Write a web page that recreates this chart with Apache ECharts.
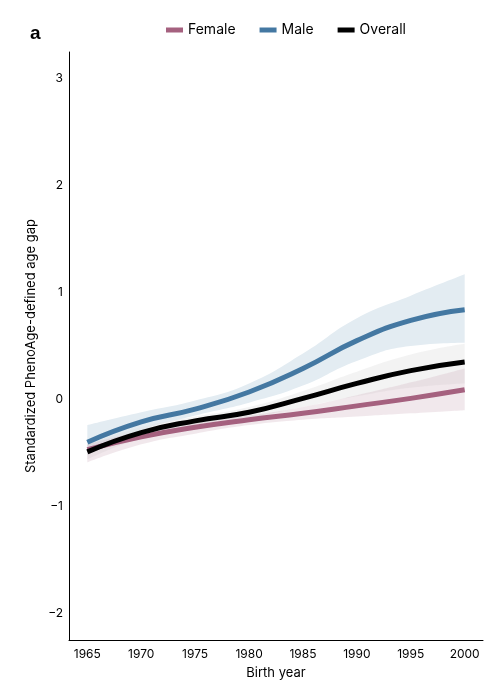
<!DOCTYPE html>
<html>
<head>
<meta charset="utf-8">
<script src="https://cdn.jsdelivr.net/npm/echarts@6/dist/echarts.min.js"></script>
<style>
  html, body { margin: 0; padding: 0; background: #fff; }
  #chart { width: 495px; height: 697px; }
</style>
</head>
<body>
<div id="chart"></div>
<script>
// birth years
const years = [1965, 1970, 1975, 1980, 1985, 1990, 1995, 2000];
const xTicks = [1965, 1970, 1975, 1980, 1985, 1990, 1995, 2000];
const yTicks = [-2, -1, 0, 1, 2, 3];

const femaleMean  = [-0.47, -0.35, -0.26, -0.19, -0.13, -0.06, 0.01, 0.09];
const femaleLower = [-0.59, -0.42, -0.32, -0.24, -0.19, -0.16, -0.13, -0.10];
const femaleUpper = [-0.42, -0.30, -0.22, -0.15, -0.07, 0.04, 0.16, 0.29];

const maleMean  = [-0.40, -0.21, -0.09, 0.07, 0.29, 0.55, 0.74, 0.84];
const maleLower = [-0.52, -0.29, -0.15, -0.03, 0.13, 0.36, 0.50, 0.53];
const maleUpper = [-0.24, -0.12, -0.01, 0.15, 0.43, 0.76, 0.97, 1.17];

const overallMean  = [-0.49, -0.31, -0.20, -0.12, 0.01, 0.15, 0.27, 0.35];
const overallLower = [-0.56, -0.36, -0.24, -0.17, -0.07, 0.03, 0.11, 0.15];
const overallUpper = [-0.42, -0.26, -0.16, -0.07, 0.08, 0.26, 0.42, 0.52];

const FONT = 'Inter';

// value first, year second: stacking then applies to the value dimension
function pairs(vals) {
  return years.map((y, i) => [vals[i], y]);
}

function band(name, lower, upper, color) {
  return [
    {
      type: 'line', name: name + '_lo', stack: name, stackStrategy: 'all',
      data: pairs(lower), encode: { x: 1, y: 0 },
      smooth: true, showSymbol: false, silent: true,
      lineStyle: { opacity: 0 }, z: 1
    },
    {
      type: 'line', name: name + '_hi', stack: name, stackStrategy: 'all',
      data: pairs(upper.map((u, i) => u - lower[i])), encode: { x: 1, y: 0 },
      smooth: true, showSymbol: false, silent: true,
      lineStyle: { opacity: 0 }, areaStyle: { color: color, opacity: 1 }, z: 1
    }
  ];
}

function mainLine(name, vals, color, z) {
  return {
    type: 'line', name: name, data: pairs(vals), encode: { x: 1, y: 0 },
    smooth: true, showSymbol: false,
    color: color, lineStyle: { width: 5, color: color }, z: z
  };
}

const chart = echarts.init(document.getElementById('chart'));
chart.setOption({
  animation: false,
  textStyle: { fontFamily: FONT },
  title: {
    text: 'a', left: 25, top: 19,
    textStyle: { fontSize: 19, fontWeight: 'bold', color: '#000', fontFamily: 'Liberation Sans' }
  },
  legend: {
    top: 18, left: 161,
    data: ['Female', 'Male', 'Overall'],
    icon: 'rect', itemWidth: 17, itemHeight: 5, itemGap: 24,
    textStyle: { fontSize: 14, color: '#000', fontFamily: FONT }
  },
  grid: { left: 69, right: 12, top: 52, bottom: 57 },
  xAxis: {
    type: 'value', min: 1963.3, max: 2001.7,
    name: 'Birth year', nameLocation: 'middle', nameGap: 27,
    nameTextStyle: { fontSize: 13, color: '#000' },
    axisLine: { onZero: false, lineStyle: { color: '#000', width: 1 } },
    axisTick: { show: false },
    splitLine: { show: false },
    axisLabel: {
      customValues: xTicks, color: '#000', fontSize: 12, margin: 8,
      formatter: v => String(v)
    }
  },
  yAxis: {
    type: 'value', min: -2.25, max: 3.25,
    name: 'Standardized PhenoAge-defined age gap', nameLocation: 'middle', nameGap: 28,
    nameTextStyle: { fontSize: 13, color: '#000' },
    axisLine: { show: true, onZero: false, lineStyle: { color: '#000', width: 1 } },
    axisTick: { show: false },
    splitLine: { show: false },
    axisLabel: {
      customValues: yTicks, color: '#000', fontSize: 12, margin: 6,
      formatter: v => String(v).replace('-', '\u2212')
    }
  },
  series: [
    ...band('m', maleLower, maleUpper, '#e3ecf2'),
    ...band('o', overallLower, overallUpper, 'rgba(225,225,225,0.4)'),
    ...band('f', femaleLower, femaleUpper, 'rgba(210,180,192,0.3)'),
    mainLine('Female', femaleMean, '#a5617f', 5),
    mainLine('Male', maleMean, '#4478a2', 6),
    mainLine('Overall', overallMean, '#000000', 7)
  ]
});
</script>
</body>
</html>
